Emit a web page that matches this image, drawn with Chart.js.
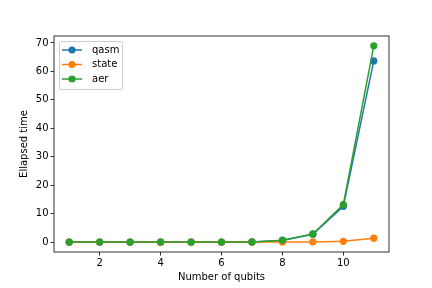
<!DOCTYPE html>
<html>
<head>
<meta charset="utf-8">
<script src="https://cdn.jsdelivr.net/npm/chart.js@4"></script>
<style>
  html, body { margin: 0; padding: 0; background: #fff; }
  #wrap { width: 432px; height: 288px; }
</style>
</head>
<body>
<div id="wrap"><canvas id="myChart" width="432" height="288"></canvas></div>
<script>
// data
var qubits = [1, 2, 3, 4, 5, 6, 7, 8, 9, 10, 11];
var qasmTimes = [0.02, 0.02, 0.02, 0.03, 0.03, 0.04, 0.1, 0.6, 2.8, 12.6, 63.7];
var stateTimes = [0.01, 0.01, 0.01, 0.01, 0.01, 0.02, 0.02, 0.03, 0.08, 0.3, 1.4];
var aerTimes = [0.02, 0.02, 0.02, 0.03, 0.03, 0.04, 0.1, 0.7, 2.9, 13.2, 69.0];
var xTicks = [2, 4, 6, 8, 10];
var yTicks = [0, 10, 20, 30, 40, 50, 60, 70];

var font = "DejaVu Sans";

function pts(ys) {
  return qubits.map(function (x, i) { return {x: x, y: ys[i]}; });
}

function ds(label, ys, color, order) {
  return {
    label: label,
    data: pts(ys),
    order: order,
    borderColor: color,
    backgroundColor: color,
    borderWidth: 1.5,
    pointRadius: 3.6,
    pointHoverRadius: 3.6,
    pointBorderWidth: 0,
    tension: 0
  };
}

// box round the plot, like matplotlib spines
var frame = {
  id: "frame",
  afterDatasetsDraw: function (chart) {
    var a = chart.chartArea, c = chart.ctx;
    c.save();
    c.strokeStyle = "#000";
    c.lineWidth = 0.8;
    c.strokeRect(a.left, a.top, a.right - a.left, a.bottom - a.top);
    c.restore();
  }
};

// legend inside the axes, upper left
var innerLegend = {
  id: "innerLegend",
  afterDraw: function (chart) {
    var c = chart.ctx, a = chart.chartArea;
    var x0 = a.left + 5, y0 = a.top + 5, w = 63, h = 48;
    c.save();
    c.fillStyle = "rgba(255,255,255,0.8)";
    c.strokeStyle = "#cccccc";
    c.lineWidth = 1;
    c.beginPath();
    c.roundRect(x0 + 0.5, y0 + 0.5, w, h, 2);
    c.fill();
    c.stroke();
    c.font = "10px '" + font + "'";
    c.textBaseline = "middle";
    chart.data.datasets.forEach(function (d, i) {
      var y = y0 + 9 + i * 14.5;
      c.strokeStyle = d.borderColor;
      c.lineWidth = 1.5;
      c.beginPath();
      c.moveTo(x0 + 3, y);
      c.lineTo(x0 + 23, y);
      c.stroke();
      c.fillStyle = d.borderColor;
      c.beginPath();
      c.arc(x0 + 13, y, 3.6, 0, Math.PI * 2);
      c.fill();
      c.fillStyle = "#000";
      c.fillText(d.label, x0 + 33, y);
    });
    c.restore();
  }
};

new Chart("myChart", {
  type: "line",
  data: {
    datasets: [
      ds("qasm", qasmTimes, "#1f77b4", 2),
      ds("state", stateTimes, "#ff7f0e", 1),
      ds("aer", aerTimes, "#2ca02c", 0)
    ]
  },
  options: {
    responsive: false,
    animation: false,
    layout: {padding: {left: 18, right: 43, top: 36, bottom: 5}},
    plugins: {legend: {display: false}, tooltip: {enabled: false}},
    scales: {
      x: {
        type: "linear",
        min: 0.5,
        max: 11.5,
        afterBuildTicks: function (s) { s.ticks = xTicks.map(function (v) { return {value: v}; }); },
        afterFit: function (s) { s.height = 31; },
        grid: {drawOnChartArea: false, drawTicks: true, tickLength: 3.5, color: "#000", tickWidth: 0.8},
        border: {display: false},
        ticks: {color: "#000", padding: 2, font: {family: font, size: 10}},
        title: {display: true, text: "Number of qubits", color: "#000", padding: {top: 2, bottom: 0}, font: {family: font, size: 10}}
      },
      y: {
        min: -3.45,
        max: 72.45,
        afterBuildTicks: function (s) { s.ticks = yTicks.map(function (v) { return {value: v}; }); },
        afterFit: function (s) { s.width = 36; },
        grid: {drawOnChartArea: false, drawTicks: true, tickLength: 3.5, color: "#000", tickWidth: 0.8},
        border: {display: false},
        ticks: {color: "#000", padding: 2, font: {family: font, size: 10}},
        title: {display: true, text: "Ellapsed time", color: "#000", padding: {top: 0, bottom: 4}, font: {family: font, size: 10}}
      }
    }
  },
  plugins: [frame, innerLegend]
});
</script>
</body>
</html>
